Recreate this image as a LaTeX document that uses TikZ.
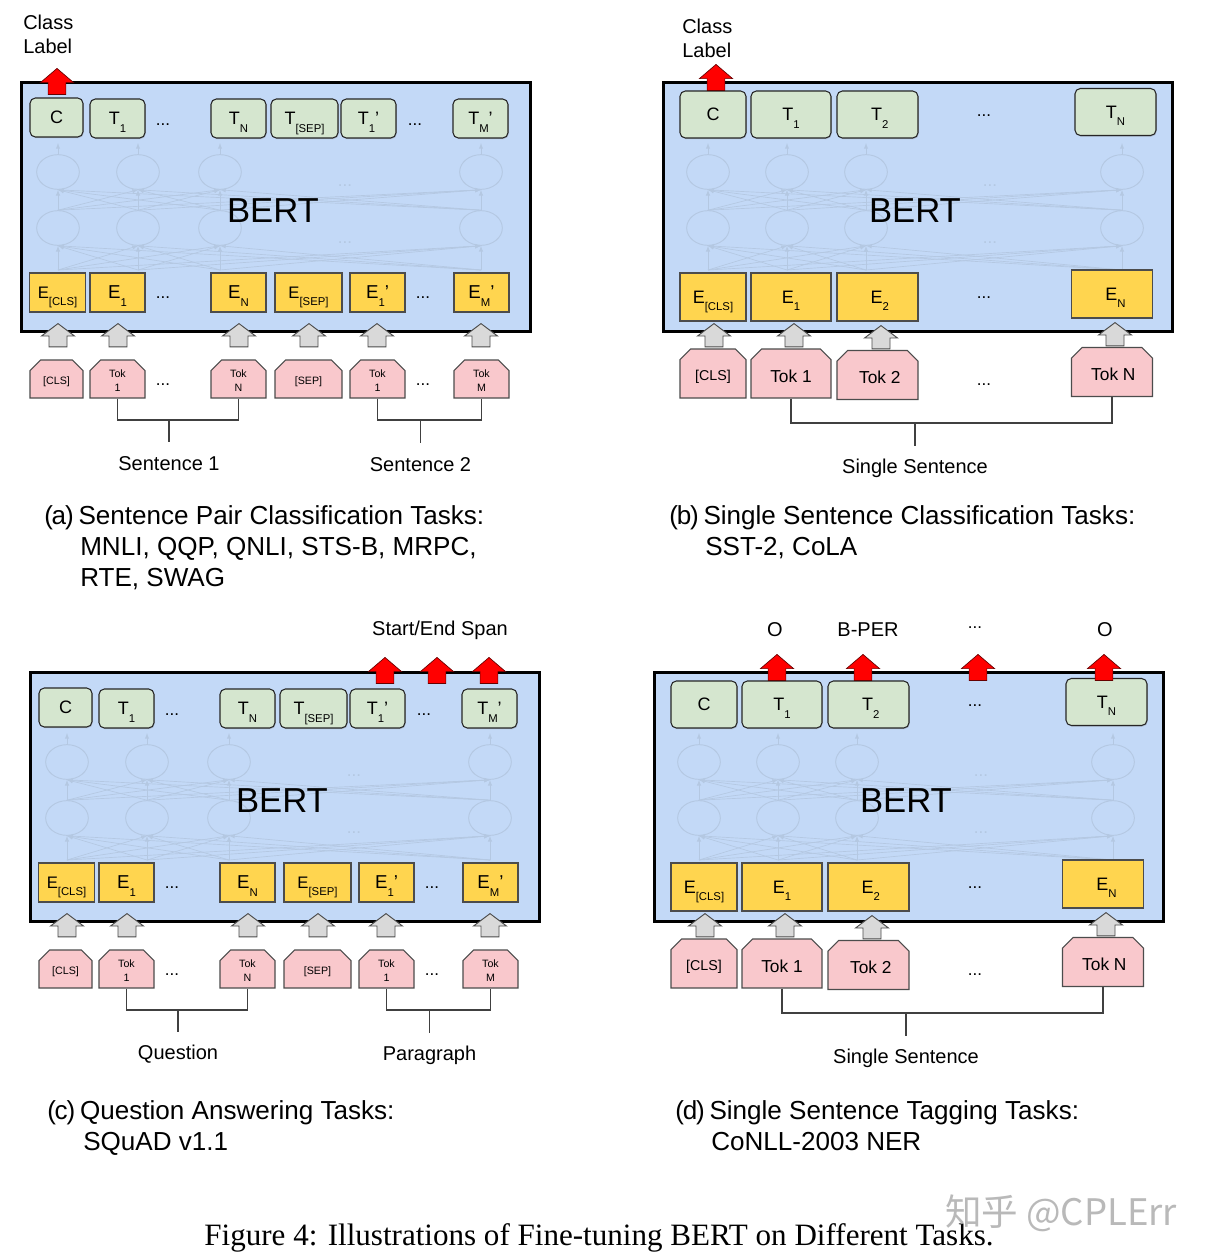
\documentclass[tikz,border=0pt]{standalone}
\usepackage{fontspec}
\setmainfont{Liberation Sans}
\newfontfamily\figfont{Liberation Serif}
\newfontfamily\markfont{Noto Sans CJK SC}
\usetikzlibrary{shapes.misc,shapes.arrows,shapes.geometric,shadows}
\definecolor{bertblue}{HTML}{C3D9F7}
\definecolor{ghostline}{HTML}{B4C8E2}
\definecolor{tgreen}{HTML}{D5E6CF}
\definecolor{eyellow}{HTML}{FFD54F}
\definecolor{tokpink}{HTML}{F9C8CC}
\definecolor{graytip}{HTML}{D9D9D9}
\newcommand{\subtag}[1]{\smash{\raisebox{-.42em}{\fontsize{8.5}{8.5}\selectfont #1}}}
\newcommand{\fs}[1]{\fontsize{#1}{#1}\selectfont}
\newcommand{\tasktag}[1]{(\kern-.9pt#1\kern-.9pt)\kern-1.8pt\ }
\tikzset{
  boxw/.style={minimum width=#1*.75pt},
  boxh/.style={minimum height=#1*.75pt},
  tbox/.style={rectangle,draw=black!85,fill=tgreen,rounded corners=4pt,line width=.8pt,inner sep=0pt,
    boxh=39,font=\fs{13.5},drop shadow={shadow xshift=.6pt,shadow yshift=-.8pt,opacity=.35}},
  ebox/.style={rectangle,draw=black!70,fill=eyellow,line width=.8pt,inner sep=0pt,boxh=39,font=\fs{14}},
  tokbox/.style={chamfered rectangle,chamfered rectangle corners={north west,north east},
    chamfered rectangle xsep=4pt,chamfered rectangle ysep=4pt,draw=black!70,fill=tokpink,
    line width=.8pt,inner sep=0pt,boxh=38,align=center,font=\fontsize{8}{10.5}\selectfont},
  grayup/.style={single arrow,shape border rotate=90,anchor=tip,draw=black!70,fill=graytip,line width=.7pt,
    minimum height=17.5pt,single arrow head extend=5.6pt,single arrow tip angle=106,inner xsep=6.4pt,inner ysep=0pt},
  redup/.style={single arrow,shape border rotate=90,anchor=tip,draw=black!60!red,fill=red,line width=.5pt,
    minimum height=19.5pt,single arrow head extend=5.8pt,single arrow tip angle=99,inner xsep=6.4pt,inner ysep=0pt},
  ghostcell/.style={ellipse,draw=ghostline,line width=.7pt,minimum width=32pt,minimum height=26pt,inner sep=0pt},
  ghostwire/.style={draw=ghostline,line width=.5pt,-latex},
  dots/.style={font=\fs{12.75},inner sep=0pt,yshift=-2pt},
  ghostdots/.style={font=\fs{12.75},text=ghostline,inner sep=0pt,yshift=-2pt},
  tasktext/.style={font=\fs{15},inner sep=0pt},
  sentlabel/.style={font=\fs{15},inner sep=0pt,minimum height=32pt},
  bertname/.style={font=\fs{26},inner sep=0pt},
  captext/.style={font=\fontsize{19.55}{23.25}\selectfont,align=left,anchor=north west,inner sep=0pt},
}
% the four columns of faint cells behind the BERT label
\newcommand{\ghostnet}[4]{
  \foreach \i/\x in {1/#1,2/#2,3/#3,4/#4}{
    \node[ghostcell] (hi\i) at (\x,172){};
    \node[ghostcell] (lo\i) at (\x,228){};
    \coordinate (in\i) at (\x,270);
    \coordinate (out\i) at (\x,143);
    \draw[ghostwire] (hi\i) -- (out\i);
  }
  \foreach \i in {1,2,3,4}
    \foreach \j in {1,2,3,4}{
      \draw[ghostwire] (lo\i.north) -- (hi\j.south);
      \draw[ghostwire] (in\i) -- (lo\j.south);
    }
}
% sentence pair layout, (a) and (c)
\newcommand{\pairpanel}[5]{
  \begin{scope}[shift={(#2,#3)},name prefix=#1-]
    \node[rectangle,draw=black,fill=bertblue,line width=2.25pt,inner sep=0pt,boxw=509,boxh=249] (frame) at (275.75,206.75){};
    \ghostnet{58}{138}{220}{481}
    \node[ghostdots] (gd1) at (345,183){...};
    \node[ghostdots] (gd2) at (345,240){...};
    \node[bertname] (bert) at (273,211){BERT};
    \foreach \nm/\xc/\yc/\bw/\txt in {c/56.5/117.5/53/C,t1/117.5/118.5/55/T\subtag{1},tn/238.5/118.5/55/T\subtag{N},
        tsep/304.5/118.5/67/T\subtag{[SEP]},tq/368.5/118.5/55/T\subtag{1}',tm/480.5/118.5/55/T\subtag{M}'}
      \node[tbox,boxw=\bw] (\nm) at (\xc,\yc){\txt};
    \foreach \nm/\xc/\bw/\txt in {ecls/57.5/56/{\fs{12.5}E\subtag{[CLS]}},e1/117.5/55/E\subtag{1},en/238.5/55/E\subtag{N},
        esep/308.5/67/{\fs{12.5}E\subtag{[SEP]}},eq/377.5/55/E\subtag{1}',em/481.5/55/E\subtag{M}'}
      \node[ebox,boxw=\bw] (\nm) at (\xc,292.5){\txt};
    \foreach \nm/\xc in {g1/58,g2/118,g3/239,g4/309,g5/377,g6/481}
      \node[grayup] (\nm) at (\xc,323){};
    \foreach \nm/\xc/\bw/\lift/\txt in {cls/56.5/53/9.5/{[CLS]},tok1/117.5/55/19.3/{Tok\\1},tokn/238.5/55/19.3/{Tok\\N},
        sep/308.5/67/9.5/{[SEP]},tokq/377.5/55/19.3/{Tok\\1},tokm/481.5/55/19.3/{Tok\\M}}
      \node[tokbox,boxw=\bw,text height=\lift pt] (\nm) at (\xc,379){\txt};
    \foreach \nm/\xc/\yc in {d1/163/122,d2/415/122,d3/163/295,d4/423/295,d5/163/382,d6/423/382}
      \node[dots] (\nm) at (\xc,\yc){...};
    \node[sentlabel] (sent1) at (169,464){#4};
    \node[sentlabel] (sent2) at (420.5,465){#5};
    \coordinate (brk1) at (169,420);
    \coordinate (brk2) at (420.5,420);
    \draw[line width=.8pt,black!75] (tok1.south) |- (brk1) -| (tokn.south);
    \draw[line width=.8pt,black!75] (brk1) -- (sent1.north);
    \draw[line width=.8pt,black!75] (tokq.south) |- (brk2) -| (tokm.south);
    \draw[line width=.8pt,black!75] (brk2) -- (sent2.north);
  \end{scope}
}
% single sentence layout, (b) and (d)
\newcommand{\singlepanel}[3]{
  \begin{scope}[shift={(#2,#3)},name prefix=#1-]
    \node[rectangle,draw=black,fill=bertblue,line width=2.25pt,inner sep=0pt,boxw=509,boxh=249] (frame) at (917.75,206.75){};
    \ghostnet{708}{787}{866}{1122}
    \node[ghostdots] (gd1) at (990,183){...};
    \node[ghostdots] (gd2) at (990,240){...};
    \node[bertname] (bert) at (915,211){BERT};
    \foreach \nm/\xc/\yc/\bw/\txt in {c/713/114.5/66/C,t1/791/114.5/80/T\subtag{1},t2/877.5/114.5/81/\hspace*{3.5pt}T\subtag{2},tn/1115.5/112/81/T\subtag{N}}
      \node[tbox,boxw=\bw,boxh=47] (\nm) at (\xc,\yc){\txt};
    \foreach \nm/\xc/\yc/\bw/\txt in {ecls/713/297/66/{\fs{13.5}E\subtag{[CLS]}},e1/791/297/80/E\subtag{1},e2/877.5/297/81/\hspace*{3.5pt}E\subtag{2},en/1112/294/81/\hspace*{5pt}E\subtag{N}}
      \node[ebox,boxw=\bw,boxh=48,font=\fs{13.5}] (\nm) at (\xc,\yc){\txt};
    \foreach \nm/\xc/\yc in {g1/714/323,g2/794/323,g3/881/325,g4/1115/322}
      \node[grayup] (\nm) at (\xc,\yc){};
    \foreach \nm/\xc/\yc/\bw/\txt in {cls/713/373.5/66/{\fs{10.7}[CLS]},tok1/791/373.5/80/Tok 1,tok2/877.5/375/81/\hspace*{3.5pt}Tok 2,tokn/1112/372/81/\hspace*{2pt}Tok N}
      \node[tokbox,boxw=\bw,boxh=49,font=\fs{13},text height=13pt] (\nm) at (\xc,\yc){\txt};
    \node[dots] (d1) at (984,113){...};
    \node[dots] (d2) at (984,295){...};
    \node[dots] (d3) at (984,382){...};
    \node[sentlabel] (sent) at (915,468){Single Sentence};
    \coordinate (brk) at (915,423);
    \draw[line width=.8pt,black!75] (tok1.south) |- (brk) -| (tokn.south);
    \draw[line width=.8pt,black!75] (brk) -- (sent.north);
  \end{scope}
}
\begin{document}
\begin{tikzpicture}[x=.75pt,y=-.75pt]
  \useasboundingbox[fill=white] (0,0) rectangle (1206,1260);

  \pairpanel{a}{0}{0}{Sentence 1}{Sentence 2}
  \singlepanel{b}{0}{0}
  \pairpanel{c}{9}{590}{Question}{Paragraph}
  \singlepanel{d}{-9}{590}

  \node[redup] (reda) at (57,68){};
  \node[tasktext,align=left,anchor=north west,font=\fontsize{15}{18}\selectfont] (classa) at (23,15){Class\\Label};
  \node[redup] (redb) at (716,64){};
  \node[tasktext,align=left,anchor=north west,font=\fontsize{15}{18}\selectfont] (classb) at (682,19){Class\\Label};

  \foreach \nm/\xc in {redc1/385,redc2/437,redc3/489}
    \node[redup] (\nm) at (\xc,657){};
  \node[tasktext] (span) at (440,630.5){Start/End Span};

  \foreach \nm/\xc in {redd1/777,redd2/863,redd3/978,redd4/1104}
    \node[redup] (\nm) at (\xc,654){};
  \node[tasktext] (tago1) at (775,630){O};
  \node[tasktext] (tagper) at (868,630){B-PER};
  \node[dots] (tagdots) at (975,625){...};
  \node[tasktext] (tago2) at (1105,630){O};

  \node[captext] (capa) at (44,505){\tasktag{a}Sentence Pair Classification Tasks:\\\hspace*{27pt}MNLI, QQP, QNLI, STS-B, MRPC,\\\hspace*{27pt}RTE, SWAG};
  \node[captext] (capb) at (669,505){\tasktag{b}Single Sentence Classification Tasks:\\\hspace*{27pt}SST-2, CoLA};
  \node[captext] (capc) at (47,1100){\tasktag{c}Question Answering Tasks:\\\hspace*{27pt}SQuAD v1.1};
  \node[captext] (capd) at (675,1100){\tasktag{d}Single Sentence Tagging Tasks:\\\hspace*{27pt}CoNLL-2003 NER};

  \node[font=\figfont\fs{23.3},inner sep=0pt] (figcap) at (599,1238){Figure 4: Illustrations of Fine-tuning BERT on Different Tasks.};
  \node[font=\markfont\fs{27.4},text=black!32,opacity=.85,inner sep=0pt] (mark) at (1061,1213){知乎 @CPLErr};
\end{tikzpicture}
\end{document}
